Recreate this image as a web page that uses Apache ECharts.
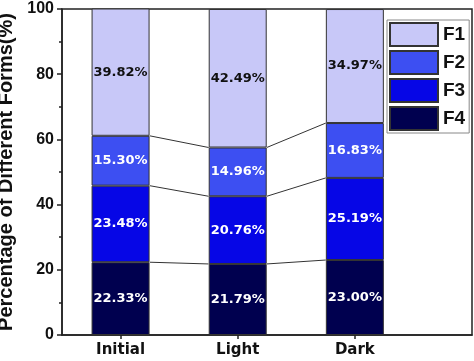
<!DOCTYPE html>
<html><head><meta charset="utf-8">
<script src="https://cdn.jsdelivr.net/npm/echarts@6/dist/echarts.min.js"></script>
<style>html,body{margin:0;padding:0;background:#fff}#c{width:474px;height:361px}</style>
</head><body><div id="c"></div>
<script>
const categories = ['Initial', 'Light', 'Dark'];
const F1 = [39.82, 42.49, 34.97];
const F2 = [15.30, 14.96, 16.83];
const F3 = [23.48, 20.76, 25.19];
const F4 = [22.33, 21.79, 23.00];
const yTicks = [0, 20, 40, 60, 80, 100];

// axis slots: spacer, Initial, spacer, Light, spacer, Dark, spacer, spacer
const slots = ['_a', categories[0], '_b', categories[1], '_c', categories[2], '_d', '_e'];
const catIdx = categories.map(c => slots.indexOf(c));

const ARIAL = 'Arial';
const DEJA = '"DejaVu Sans"';
const BAR_W = 58;
const colors = {F1: '#c8c8f8', F2: '#3d4ff2', F3: '#0606e6', F4: '#00004f'};

function toSlots(vals) {
  const arr = slots.map(() => '-');
  vals.forEach((v, i) => { arr[catIdx[i]] = v; });
  return arr;
}

function barSeries(name, vals, labelColor) {
  return {
    name: name, type: 'bar', stack: 'all', barWidth: BAR_W,
    data: toSlots(vals),
    itemStyle: {color: colors[name], borderColor: '#333', borderWidth: 1},
    label: {show: true, position: 'inside', color: labelColor, fontFamily: DEJA,
      fontWeight: 'bold', fontSize: 13, formatter: p => Number(p.value).toFixed(2) + '%'},
    z: 2
  };
}

const levels = [
  F4.slice(),
  F4.map((v, i) => v + F3[i]),
  F4.map((v, i) => v + F3[i] + F2[i])
];

const chart = echarts.init(document.getElementById('c'));
chart.setOption({
  animation: false,
  grid: {left: 62, right: 2, top: 9, bottom: 26, outerBoundsMode: 'none', show: true,
    borderColor: '#222', borderWidth: 1.5, backgroundColor: 'transparent'},
  legend: {
    data: ['F1', 'F2', 'F3', 'F4'], orient: 'vertical', left: 387, top: 20,
    itemWidth: 48, itemHeight: 23, itemGap: 3, itemTextGap: 5, icon: 'rect',
    borderColor: '#888', borderWidth: 1, padding: [2, 4, 2, 2],
    textStyle: {fontFamily: ARIAL, fontWeight: 'bold', fontSize: 19, color: '#111', lineHeight: 23}
  },
  xAxis: {
    type: 'category', data: slots, boundaryGap: false,
    splitLine: {show: false},
    axisLine: {show: true, lineStyle: {color: '#222', width: 1.5}},
    axisTick: {show: true, interval: (i, v) => categories.indexOf(v) >= 0, length: 4, lineStyle: {color: '#222', width: 1.5}},
    axisLabel: {interval: 0, formatter: v => categories.indexOf(v) >= 0 ? v : '',
      fontFamily: DEJA, fontWeight: 'bold', fontSize: 15, color: '#111', margin: 8}
  },
  yAxis: {
    type: 'value', min: 0, max: 100, interval: 20,
    name: 'Percentage of Different Forms(%)', nameLocation: 'middle', nameGap: 42,
    nameTextStyle: {fontFamily: ARIAL, fontWeight: 'bold', fontSize: 20, color: '#111'},
    splitLine: {show: false},
    axisLine: {show: true, lineStyle: {color: '#222', width: 1.5}},
    axisTick: {show: true, length: 5, lineStyle: {color: '#222', width: 1.5}},
    minorTick: {show: true, splitNumber: 2, length: 3, lineStyle: {color: '#222', width: 1.5}},
    axisLabel: {fontFamily: ARIAL, fontWeight: 'bold', fontSize: 16, color: '#111', margin: 8}
  },
  series: [
    barSeries('F4', F4, '#fff'),
    barSeries('F3', F3, '#fff'),
    barSeries('F2', F2, '#fff'),
    barSeries('F1', F1, '#111'),
    {
      type: 'custom', silent: true, z: 3,
      data: [[0], [1]],
      renderItem: function (params, api) {
        const i = api.value(0);
        const children = levels.map(l => {
          const p1 = api.coord([catIdx[i], l[i]]);
          const p2 = api.coord([catIdx[i + 1], l[i + 1]]);
          return {type: 'line', shape: {x1: p1[0] + BAR_W / 2, y1: p1[1], x2: p2[0] - BAR_W / 2, y2: p2[1]},
            style: {stroke: '#333', lineWidth: 1}};
        });
        return {type: 'group', children: children};
      }
    }
  ]
});
</script></body></html>
